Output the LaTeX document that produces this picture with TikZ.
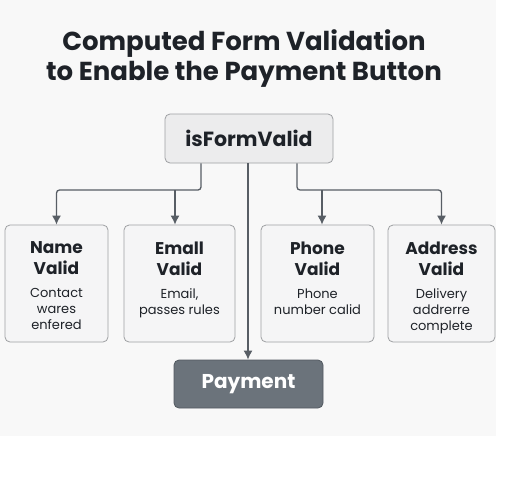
\documentclass[tikz,border=0pt]{standalone}
\usepackage{fontspec}
\setmainfont{Poppins}
\usepackage{tikz}
\usetikzlibrary{arrows.meta}

\definecolor{bgGray}{RGB}{248,248,248}
\definecolor{formFill}{RGB}{236,236,237}
\definecolor{boxFill}{RGB}{245,245,246}
\definecolor{boxBorder}{RGB}{158,160,163}
\definecolor{lineGray}{RGB}{88,94,101}
\definecolor{payFill}{RGB}{107,115,123}
\definecolor{payBorder}{RGB}{82,89,96}
\definecolor{inkDark}{RGB}{30,34,40}

\newcommand{\checktext}[2]{\parbox[c][100pt][t]{100pt}{\centering\vspace*{8pt}
  \fontsize{17}{21}\selectfont\bfseries #1\par\vspace{7pt}
  \fontsize{13}{16}\selectfont\mdseries #2\par}}

\begin{document}
\begin{tikzpicture}[x=1pt,y=-1pt,
  check/.style={draw=boxBorder, fill=boxFill, rounded corners=5pt, line width=0.8pt,
    inner sep=0pt, minimum height=117pt, text=inkDark},
  conn/.style={draw=lineGray, line width=1.3pt, rounded corners=3pt,
    -{Latex[length=9pt,width=9pt]}}]

\useasboundingbox (0,0) rectangle (508,493);
\fill[bgGray] (0,0) rectangle (496,436);

% Title
\node[font=\bfseries\fontsize{26}{30}\selectfont, align=center, text=inkDark] (title) at (244,59)
  {Computed Form Validation\\to Enable the Payment Button};

% Computed value
\node[draw=boxBorder, fill=formFill, rounded corners=5pt, line width=0.8pt, text=inkDark,
  minimum width=168pt, minimum height=49pt, font=\bfseries\fontsize{20.5}{24}\selectfont] (form) at (249,138.5) {isFormValid};

% Field checks
\node[check, minimum width=103pt] (name) at (56.5,283.5) {\checktext{Name\\Valid}{Contact\\wares\\enfered}};
\node[check, minimum width=111pt] (email) at (179.5,283.5) {\checktext{Emall\\Valid}{Email,\\passes rules}};
\node[check, minimum width=113pt] (phone) at (317.5,283.5) {\checktext{Phone\\Valid}{Phone\\number calid}};
\node[check, minimum width=107pt] (address) at (441.5,283.5) {\checktext{Address\\Valid}{Delivery\\addrerre\\complete}};

% Button
\node[draw=payBorder, fill=payFill, rounded corners=5pt, line width=0.8pt, text=white,
  minimum width=149pt, minimum height=48pt, font=\bfseries\fontsize{20}{24}\selectfont] (payment) at (248.5,384) {Payment};

% Connectors
\coordinate (splitL) at (201,190);
\coordinate (splitR) at (297,190);
\coordinate (emailIn) at ([xshift=-4.5pt]email.north);
\coordinate (phoneIn) at ([xshift=4.5pt]phone.north);

\draw[conn] (form.south -| splitL) -- (splitL) -| (name.north);
\draw[conn] (emailIn |- splitL) -- (emailIn);
\draw[conn] (form.south -| splitR) -- (splitR) -| (address.north);
\draw[conn] (phoneIn |- splitR) -- (phoneIn);
\draw[conn, rounded corners=0pt] ([xshift=-1pt]form.south) -- ([xshift=-0.5pt]payment.north);
\end{tikzpicture}
\end{document}
